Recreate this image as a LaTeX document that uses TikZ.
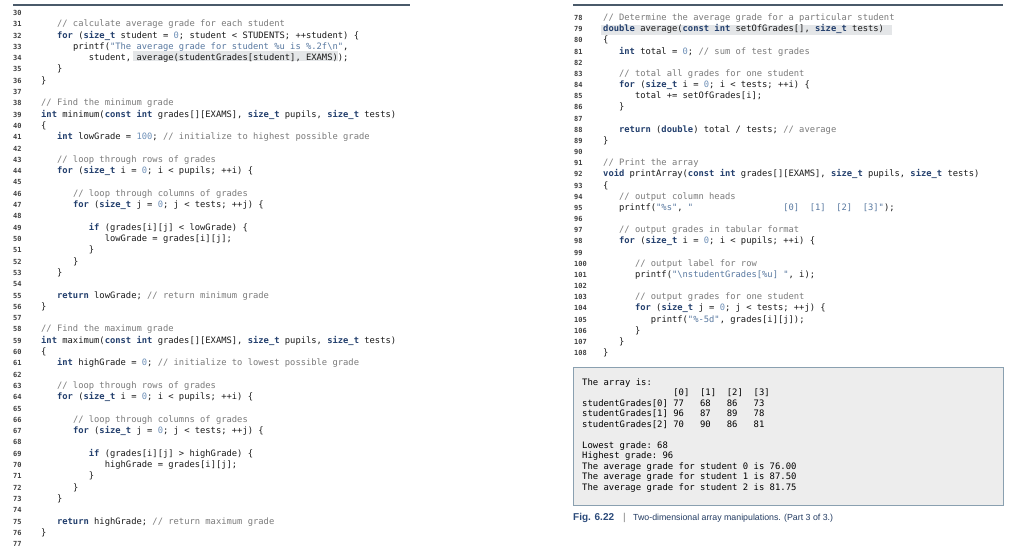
\documentclass[tikz,border=0pt]{standalone}
\usepackage{fontspec}
\setmainfont{Liberation Sans}
\setmonofont{DejaVu Sans Mono}
\definecolor{kwc}{HTML}{24406E}
\definecolor{cmc}{HTML}{7A7A7A}
\definecolor{stc}{HTML}{5878A0}
\definecolor{nmc}{HTML}{6E90B8}
\definecolor{rulec}{HTML}{4A5A6A}
\definecolor{hlc}{HTML}{E4E6E8}
\definecolor{boxc}{HTML}{EDEDED}
\definecolor{boxb}{HTML}{8AA0B0}
\definecolor{capc}{HTML}{2B4A7A}
\newcommand\kw[1]{{\bfseries\color{kwc}#1}}
\newcommand\cm[1]{{\color{cmc}#1}}
\newcommand\st[1]{{\color{stc}#1}}
\newcommand\nm[1]{{\color{nmc}#1}}
\newcommand\spc[1]{\hbox to #1\fontcharwd\font`0{}}
\tikzset{
  code/.style={anchor=base west,inner sep=0pt,text=black!90,font=\ttfamily\fontsize{8.8}{10}\selectfont},
  lnum/.style={anchor=base west,inner sep=0pt,text=black!75,font=\ttfamily\bfseries\fontsize{7}{8}\selectfont},
  outtxt/.style={anchor=base west,inner sep=0pt,font=\ttfamily\fontsize{8.9}{10}\selectfont},
}
\newcommand\LL[3]{%
  \pgfmathsetmacro\yy{15.5+(#1-30)*11.3}%
  \pgfmathsetmacro\xx{41+#2*15.9}%
  \node[lnum] (n#1) at (13,\yy) {#1};
  \node[code] (c#1) at (\xx,\yy) {#3};}
\newcommand\RL[3]{%
  \pgfmathsetmacro\yy{20.5+(#1-78)*11.17}%
  \pgfmathsetmacro\xx{603+#2*15.9}%
  \node[lnum] (n#1) at (574,\yy) {#1};
  \node[code] (c#1) at (\xx,\yy) {#3};}
\begin{document}
\begin{tikzpicture}[x=1pt,y=-1pt]
\useasboundingbox (0,0) rectangle (1024,553);
\fill[white] (0,0) rectangle (1024,553);
\draw[rulec,line width=1.2pt] (13,5) -- (410,5);
\draw[rulec,line width=1.2pt] (573,5) -- (1003,5);
\fill[hlc] (133,51) rectangle (338,61.5);
\fill[hlc] (601,25) rectangle (892,35.5);
\LL{30}{0}{}
\LL{31}{1}{\cm{// calculate average grade for each student}}
\LL{32}{1}{\kw{for} (\kw{size\_t} student = \nm{0}; student < STUDENTS; ++student) \{}
\LL{33}{2}{printf(\st{"The average grade for student \%u is \%.2f\textbackslash n"},}
\LL{34}{3}{student, average(studentGrades[student], EXAMS));}
\LL{35}{1}{\}}
\LL{36}{0}{\}}
\LL{37}{0}{}
\LL{38}{0}{\cm{// Find the minimum grade}}
\LL{39}{0}{\kw{int} minimum(\kw{const int} grades[][EXAMS], \kw{size\_t} pupils, \kw{size\_t} tests)}
\LL{40}{0}{\{}
\LL{41}{1}{\kw{int} lowGrade = \nm{100}; \cm{// initialize to highest possible grade}}
\LL{42}{0}{}
\LL{43}{1}{\cm{// loop through rows of grades}}
\LL{44}{1}{\kw{for} (\kw{size\_t} i = \nm{0}; i < pupils; ++i) \{}
\LL{45}{0}{}
\LL{46}{2}{\cm{// loop through columns of grades}}
\LL{47}{2}{\kw{for} (\kw{size\_t} j = \nm{0}; j < tests; ++j) \{}
\LL{48}{0}{}
\LL{49}{3}{\kw{if} (grades[i][j] < lowGrade) \{}
\LL{50}{4}{lowGrade = grades[i][j];}
\LL{51}{3}{\}}
\LL{52}{2}{\}}
\LL{53}{1}{\}}
\LL{54}{0}{}
\LL{55}{1}{\kw{return} lowGrade; \cm{// return minimum grade}}
\LL{56}{0}{\}}
\LL{57}{0}{}
\LL{58}{0}{\cm{// Find the maximum grade}}
\LL{59}{0}{\kw{int} maximum(\kw{const int} grades[][EXAMS], \kw{size\_t} pupils, \kw{size\_t} tests)}
\LL{60}{0}{\{}
\LL{61}{1}{\kw{int} highGrade = \nm{0}; \cm{// initialize to lowest possible grade}}
\LL{62}{0}{}
\LL{63}{1}{\cm{// loop through rows of grades}}
\LL{64}{1}{\kw{for} (\kw{size\_t} i = \nm{0}; i < pupils; ++i) \{}
\LL{65}{0}{}
\LL{66}{2}{\cm{// loop through columns of grades}}
\LL{67}{2}{\kw{for} (\kw{size\_t} j = \nm{0}; j < tests; ++j) \{}
\LL{68}{0}{}
\LL{69}{3}{\kw{if} (grades[i][j] > highGrade) \{}
\LL{70}{4}{highGrade = grades[i][j];}
\LL{71}{3}{\}}
\LL{72}{2}{\}}
\LL{73}{1}{\}}
\LL{74}{0}{}
\LL{75}{1}{\kw{return} highGrade; \cm{// return maximum grade}}
\LL{76}{0}{\}}
\LL{77}{0}{}
\RL{78}{0}{\cm{// Determine the average grade for a particular student}}
\RL{79}{0}{\kw{double} average(\kw{const int} setOfGrades[], \kw{size\_t} tests)}
\RL{80}{0}{\{}
\RL{81}{1}{\kw{int} total = \nm{0}; \cm{// sum of test grades}}
\RL{82}{0}{}
\RL{83}{1}{\cm{// total all grades for one student}}
\RL{84}{1}{\kw{for} (\kw{size\_t} i = \nm{0}; i < tests; ++i) \{}
\RL{85}{2}{total += setOfGrades[i];}
\RL{86}{1}{\}}
\RL{87}{0}{}
\RL{88}{1}{\kw{return} (\kw{double}) total / tests; \cm{// average}}
\RL{89}{0}{\}}
\RL{90}{0}{}
\RL{91}{0}{\cm{// Print the array}}
\RL{92}{0}{\kw{void} printArray(\kw{const int} grades[][EXAMS], \kw{size\_t} pupils, \kw{size\_t} tests)}
\RL{93}{0}{\{}
\RL{94}{1}{\cm{// output column heads}}
\RL{95}{1}{printf(\st{"\%s"}, \st{"\spc{17}[0]\spc{2}[1]\spc{2}[2]\spc{2}[3]"});}
\RL{96}{0}{}
\RL{97}{1}{\cm{// output grades in tabular format}}
\RL{98}{1}{\kw{for} (\kw{size\_t} i = \nm{0}; i < pupils; ++i) \{}
\RL{99}{0}{}
\RL{100}{2}{\cm{// output label for row}}
\RL{101}{2}{printf(\st{"\textbackslash nstudentGrades[\%u] "}, i);}
\RL{102}{0}{}
\RL{103}{2}{\cm{// output grades for one student}}
\RL{104}{2}{\kw{for} (\kw{size\_t} j = \nm{0}; j < tests; ++j) \{}
\RL{105}{3}{printf(\st{"\%-5d"}, grades[i][j]);}
\RL{106}{2}{\}}
\RL{107}{1}{\}}
\RL{108}{0}{\}}
\draw[boxb,fill=boxc,line width=0.8pt] (573,367) rectangle (1003,505);
\node[outtxt] (o1) at (582,385) {The array is:};
\node[outtxt] (o2) at (582,395.5) {\spc{17}[0]\spc{2}[1]\spc{2}[2]\spc{2}[3]};
\node[outtxt] (o3) at (582,406) {studentGrades[0] 77\spc{3}68\spc{3}86\spc{3}73};
\node[outtxt] (o4) at (582,416.5) {studentGrades[1] 96\spc{3}87\spc{3}89\spc{3}78};
\node[outtxt] (o5) at (582,427) {studentGrades[2] 70\spc{3}90\spc{3}86\spc{3}81};
\node[outtxt] (o6) at (582,448) {Lowest grade: 68};
\node[outtxt] (o7) at (582,458.5) {Highest grade: 96};
\node[outtxt] (o8) at (582,469) {The average grade for student 0 is 76.00};
\node[outtxt] (o9) at (582,479.5) {The average grade for student 1 is 87.50};
\node[outtxt] (o10) at (582,490) {The average grade for student 2 is 81.75};
\node[anchor=base west,inner sep=0pt,text=capc,font=\bfseries\fontsize{10}{12}\selectfont] (fig) at (573,520) {Fig. 6.22};
\node[anchor=base west,inner sep=0pt,text=black!50,font=\fontsize{10}{12}\selectfont] (bar) at (623,520) {|};
\node[anchor=base west,inner sep=0pt,text=capc!80!black,font=\fontsize{8.8}{12}\selectfont] (cap) at (633,520) {Two-dimensional array manipulations. (Part 3 of 3.)};
\end{tikzpicture}
\end{document}
